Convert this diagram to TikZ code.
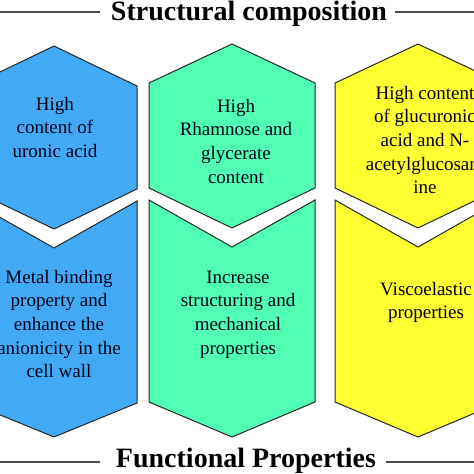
\documentclass[tikz,border=0pt]{standalone}
\usepackage{fontspec}
\setmainfont{Liberation Serif}
\definecolor{cblue}{RGB}{66,170,245}
\definecolor{cgreen}{RGB}{80,255,180}
\definecolor{cyellow}{RGB}{255,255,50}
\begin{document}
\begin{tikzpicture}[x=1pt,y=-1pt,
  panel/.style={draw=black!85, line width=1pt, line join=miter},
  txt/.style={anchor=north, align=center, inner sep=0pt, text=black!90!blue, font=\fontsize{19}{23.6}\selectfont},
  ttl/.style={font=\fontsize{28}{30}\bfseries\selectfont, inner sep=0pt, anchor=base},
  rulerline/.style={draw=black!70, line width=1.3pt}]
\useasboundingbox (0,0) rectangle (474,474);
\clip (0,0) rectangle (474,474);
\fill[white] (0,0) rectangle (474,474);
% hexagons
\path[panel, fill=cblue] (54,46) -- (137,86) -- (137,189) -- (54,229) -- (-29,189) -- (-29,86) -- cycle;
\path[panel, fill=cgreen] (232,44) -- (315,83) -- (315,188) -- (232,228) -- (149,188) -- (149,83) -- cycle;
\path[panel, fill=cyellow] (418,44) -- (501,83) -- (501,188) -- (418,228) -- (335,188) -- (335,83) -- cycle;
% chevrons
\path[panel, fill=cblue] (-29,201) -- (54,248) -- (137,201) -- (137,403) -- (54,437) -- (-29,403) -- cycle;
\path[panel, fill=cgreen] (149,200) -- (232,247) -- (315,200) -- (315,402) -- (232,437) -- (149,402) -- cycle;
\path[panel, fill=cyellow] (335,200) -- (418,247) -- (501,200) -- (501,402) -- (418,437) -- (335,402) -- cycle;
% texts
\node[txt] (h1) at (55,93.5) {\strut High\\content of\\uronic acid};
\node[txt] (h2) at (236,95.5) {\strut High\\Rhamnose and\\glycerate\\content};
\node[txt] (h3) at (425,82.5) {\strut High content\\of glucuronic\\acid and N-\\acetylglucosam\\ine};
\node[txt] (f1) at (59,266.5) {\strut Metal binding\\property and\\enhance the\\anionicity in the\\cell wall};
\node[txt] (f2) at (238,266.5) {\strut Increase\\structuring and\\mechanical\\properties};
\node[txt] (f3) at (426,278.5) {\strut Viscoelastic\\properties};
% titles
\node[ttl] (t1) at (249,20) {Structural composition};
\node[ttl] (t2) at (246,467) {Functional Properties};
\coordinate (a1) at (0,12);
\coordinate (a2) at (100,12);
\coordinate (a3) at (395,12);
\coordinate (a4) at (474,12);
\coordinate (b1) at (0,462);
\coordinate (b2) at (100,462);
\coordinate (b3) at (386,462);
\coordinate (b4) at (474,462);
\draw[rulerline] (a1) -- (a2);
\draw[rulerline] (a3) -- (a4);
\draw[rulerline] (b1) -- (b2);
\draw[rulerline] (b3) -- (b4);
\end{tikzpicture}
\end{document}
